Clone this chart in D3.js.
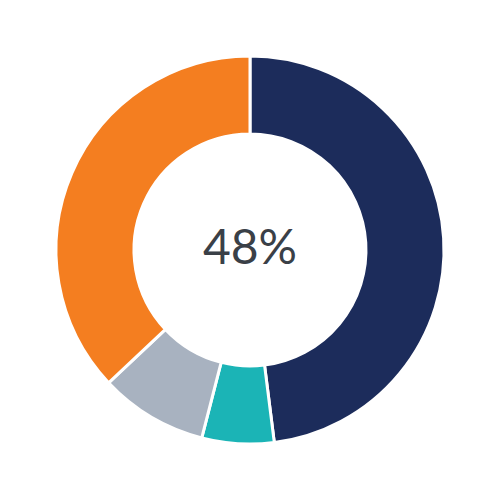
<!DOCTYPE html>
<html>
<head>
<meta charset="utf-8">
<script src="https://cdn.jsdelivr.net/npm/d3@7"></script>
<style>
  body { margin: 0; background: #fff; }
</style>
</head>
<body>
<svg id="chart" width="500" height="500"></svg>
<script>
// slice values, clockwise from the top
var categories = ["A", "B", "C", "D"];
var values = [48, 6, 9, 37];
var colors = ["#1c2c5b", "#1bb4b6", "#a8b2c0", "#f47e20"];
var centerLabel = "48%";

var svg = d3.select("#chart");
var g = svg.append("g").attr("transform", "translate(250,250)");

var pie = d3.pie().sort(null).value(function (d) { return d; });
var arc = d3.arc().innerRadius(116).outerRadius(194);

var color = d3.scaleOrdinal().domain(categories).range(colors);

g.selectAll("path")
  .data(pie(values))
  .enter()
  .append("path")
  .attr("d", arc)
  .style("fill", function (d, i) { return color(categories[i]); })
  .style("stroke", "#fff")
  .style("stroke-width", 3);

g.append("text")
  .attr("text-anchor", "middle")
  .attr("y", 14)
  .style("font-family", "Lato, 'Open Sans', sans-serif")
  .style("font-weight", 400)
  .style("font-size", "48px")
  .style("fill", "#3a4047")
  .text(centerLabel);
</script>
</body>
</html>
